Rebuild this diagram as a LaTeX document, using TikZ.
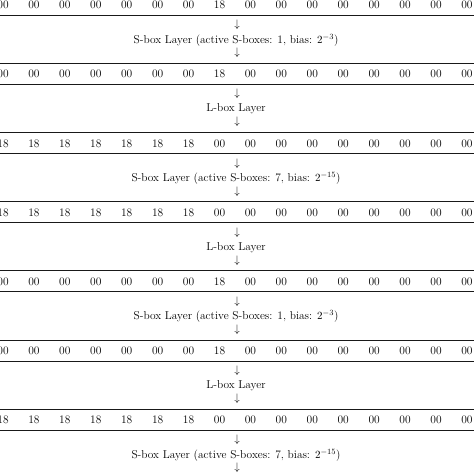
\documentclass[tikz,border=0pt]{standalone}
\usepackage{tikz}
\usetikzlibrary{calc}
\def\byteval#1#2{\ifnum#1=0 \ifnum#2=7 18\else 00\fi\else\ifnum#2<7 18\else 00\fi\fi}
\tikzset{
	cell/.style={inner sep=0pt, font=\fontsize{11.5}{13}\selectfont},
	layer/.style={inner sep=0pt, font=\fontsize{11.4}{13}\selectfont},
	rowline/.style={line width=1pt, color=black!90},
}

\begin{document}
\begin{tikzpicture}[x=1pt, y=-1pt]
			%%%%% START %%%%%
			
			\useasboundingbox (0, 0) rectangle (474, 474);
			\clip (0, 0) rectangle (474, 474);
			
			% rows of bytes: index / bottom line / pattern
			\foreach \r/\yb/\p in {0/15/0, 1/84.2/0, 2/153.4/1, 3/222.6/1, 4/291.8/0, 5/361/0, 6/430.2/1} {
				\draw[rowline] (-5, \yb-21) -- (479, \yb-21);
				\draw[rowline] (-5, \yb) -- (479, \yb);
				\foreach \c in {0,...,15} {
					\node[cell] (r\r c\c) at (3+30.93*\c, \yb-10) {\byteval{\p}{\c}};
				}
			}
			
			% layers between the rows
			\node[layer] (up0) at (237, 25) {$\downarrow$};
			\node[layer] (L0) at (236, 40) {S-box Layer (active S-boxes: 1, bias: $2^{-3}$)};
			\node[layer] (dn0) at (237, 53) {$\downarrow$};
			
			\node[layer] (up1) at (237, 94.2) {$\downarrow$};
			\node[layer] (L1) at (236, 109.2) {L-box Layer};
			\node[layer] (dn1) at (237, 122.2) {$\downarrow$};
			
			\node[layer] (up2) at (237, 163.4) {$\downarrow$};
			\node[layer] (L2) at (236, 178.4) {S-box Layer (active S-boxes: 7, bias: $2^{-15}$)};
			\node[layer] (dn2) at (237, 191.4) {$\downarrow$};
			
			\node[layer] (up3) at (237, 232.6) {$\downarrow$};
			\node[layer] (L3) at (236, 247.6) {L-box Layer};
			\node[layer] (dn3) at (237, 260.6) {$\downarrow$};
			
			\node[layer] (up4) at (237, 301.8) {$\downarrow$};
			\node[layer] (L4) at (236, 316.8) {S-box Layer (active S-boxes: 1, bias: $2^{-3}$)};
			\node[layer] (dn4) at (237, 329.8) {$\downarrow$};
			
			\node[layer] (up5) at (237, 371) {$\downarrow$};
			\node[layer] (L5) at (236, 386) {L-box Layer};
			\node[layer] (dn5) at (237, 399) {$\downarrow$};
			
			\node[layer] (up6) at (237, 440.2) {$\downarrow$};
			\node[layer] (L6) at (236, 455.2) {S-box Layer (active S-boxes: 7, bias: $2^{-15}$)};
			\node[layer] (dn6) at (237, 468.2) {$\downarrow$};
			
			%%%%% END %%%%%
\end{tikzpicture}
\end{document}
